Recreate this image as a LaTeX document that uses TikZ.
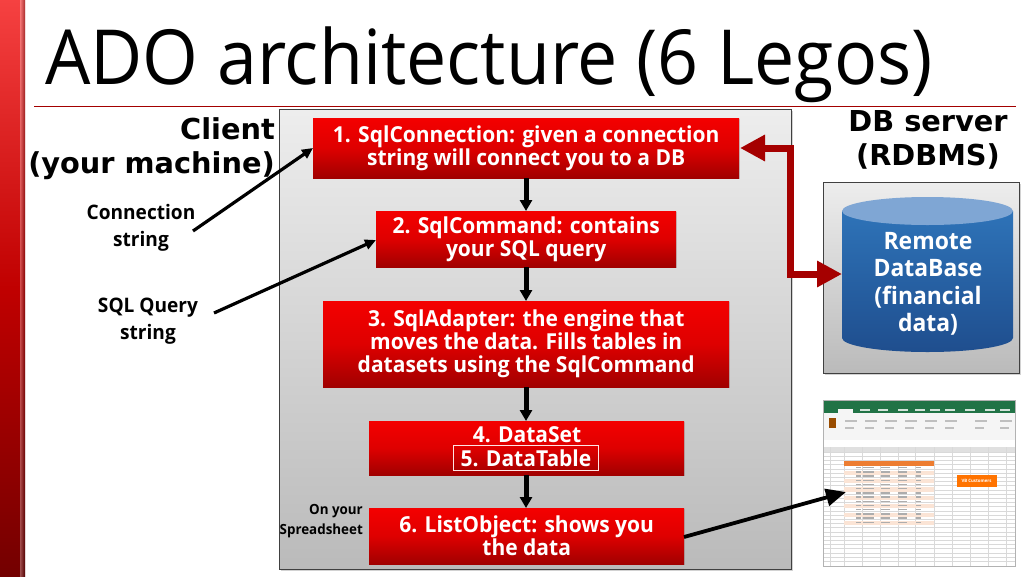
\documentclass[tikz,border=0pt]{standalone}
\usepackage{fontspec}
\setmainfont[FakeStretch=.955]{Open Sans}
\newfontfamily\titlef[FakeStretch=.943]{Open Sans}
\newfontfamily\verd{DejaVu Sans}
\usetikzlibrary{arrows.meta,shadows,calc}
\definecolor{barred}{HTML}{C00000}
\definecolor{FFred}{HTML}{F40000}
\definecolor{DDred}{HTML}{DE0000}
\definecolor{BBred}{HTML}{A00000}
\definecolor{FFdark}{HTML}{A50000}
\definecolor{cyltop}{HTML}{7FA6D4}
\definecolor{cylhi}{HTML}{2E73B8}
\definecolor{cyllo}{HTML}{1F4E8E}
\definecolor{xlgreen}{HTML}{217346}
\definecolor{xlorange}{HTML}{ED7D31}
\definecolor{xlpale}{HTML}{FBE4D5}
\tikzset{
 redbox/.style={draw=none,inner sep=0pt,top color=FFred,bottom color=BBred,middle color=DDred,text=white,font=\bfseries\fontsize{22}{23}\selectfont,align=center,anchor=north west,drop shadow={shadow xshift=.5pt,shadow yshift=-1pt,opacity=.3}},
 panel/.style={draw=black!75,line width=1pt,top color=black!7,bottom color=black!27,drop shadow={shadow xshift=1pt,shadow yshift=-1.5pt,opacity=.35}},
 flow/.style={draw=black,line width=5pt,-{Triangle[length=11pt,width=12pt]}},
 thinarrow/.style={draw=black,line width=3.2pt,line cap=butt,-{Triangle[length=11pt,width=10pt]}},
 big/.style={font=\verd\bfseries\fontsize{28.8}{34}\selectfont,align=center},
 side/.style={font=\bfseries\fontsize{20}{27}\selectfont,align=center},
 sheetc/.style={draw=black!15,line width=.3pt},
 sheetbar/.style={fill=black!32}
}
\begin{document}
\begin{tikzpicture}[x=1pt,y=-1pt]
\useasboundingbox (0,0) rectangle (1024,576);
\fill[white] (0,0) rectangle (1024,576);
% side bar
\shade[top color=red!70!white!85!barred,bottom color=barred!60!black,middle color=barred] (0,0) rectangle (25,576);
\shade[left color=black!0,right color=black,opacity=.3] (20,0) rectangle (25,576);
% title
\node[anchor=base west,inner sep=0pt,font=\titlef\fontsize{76}{84}\selectfont] (title) at (45,84) {ADO architecture (6 Legos)};
\draw[draw=barred!85!black,line width=.8pt] (34,106) -- (1016,106);
% panels
\node[panel,minimum width=512pt,minimum height=460pt,inner sep=0pt,anchor=north west] (client) at (279,109) {};
\node[panel,minimum width=196pt,minimum height=191pt,inner sep=0pt,anchor=north west] (srv) at (823,182) {};
% labels
\node[big,anchor=north east,inner sep=0pt,align=right] (clab) at (275,117) {Client\\(your machine)};
\node[big,anchor=north,inner sep=0pt] (dblab) at (928,110) {DB server\\(RDBMS)};
\node[side,anchor=center] (conn) at (141,228) {Connection\\string};
\node[side,anchor=center] (sqlq) at (148,321) {SQL Query\\string};
\node[font=\bfseries\fontsize{14}{20}\selectfont,align=right,anchor=east,inner sep=0pt] (onyour) at (363,521) {On your\\Spreadsheet};
% boxes
\node[redbox,minimum width=426pt,minimum height=60pt] (b1) at (313,118) {1. SqlConnection: given a connection\\string will connect you to a DB};
\node[redbox,minimum width=300pt,minimum height=56pt] (b2) at (376,211) {2. SqlCommand: contains\\your SQL query};
\node[redbox,minimum width=406pt,minimum height=86pt] (b3) at (323,301) {3. SqlAdapter: the engine that\\moves the data.  Fills tables in\\datasets using the SqlCommand};
\node[redbox,minimum width=315pt,minimum height=54pt] (b4) at (369,421) {};
\node[font=\bfseries\fontsize{22}{23}\selectfont,text=white,inner sep=0pt] (t4) at (527,435) {4. DataSet};
\node[draw=white!90!red,line width=.8pt,font=\bfseries\fontsize{22}{23}\selectfont,text=white,minimum width=145pt,minimum height=25pt,inner sep=0pt] (t5) at (526,458) {5. DataTable};
\node[redbox,minimum width=315pt,minimum height=56pt] (b6) at (369,508) {6. ListObject: shows you\\the data};
% flow arrows
\draw[flow] (b1.south -| t5) -- (b2.north -| t5);
\draw[flow] (b2.south -| t5) -- (b3.north -| t5);
\draw[flow] (b3.south -| t5) -- (b4.north -| t5);
\draw[flow] (b4.south -| t5) -- (b6.north -| t5);
% outside arrows
\coordinate (c1) at (193,231);
\coordinate (c2) at (214,313);
\coordinate (e1) at (313,148);
\coordinate (e2) at (376,240);
\draw[thinarrow] (c1) -- (e1);
\draw[thinarrow] (c2) -- (e2);
% cylinder
\shade[bottom color=cyllo,top color=cylhi] (842,211) -- (842,338) arc[start angle=180,end angle=0,x radius=85.5,y radius=14] -- (1013,211) -- cycle;
\fill[cyltop] (927.5,211) ellipse[x radius=85.5,y radius=14];
\node[font=\bfseries\fontsize{24}{27.4}\selectfont,text=white,align=center,inner sep=0pt] (db) at (928,284) {Remote\\DataBase\\(financial\\data)};
\coordinate (dbw) at (842,274);
\coordinate (b1e) at (740,148);
% spreadsheet
\fill[white] (823,400) rectangle (1015,567);
\fill[xlgreen] (823,400) rectangle (1015,413);
\fill[black!4] (823,413) rectangle (1015,440);
\fill[black!12] (823,447) rectangle (1015,452);
\fill[black!4] (838,409) rectangle (853,413);
\foreach \x in {860,878,898,915,930,945,965,985,1000} \fill[white!80!xlgreen] (\x,408.5) rectangle +(10,2);
\foreach \x in {845,865,885,905,925,945,975,1000} {\fill[black!25] (\x,420) rectangle +(12,2);\fill[black!25] (\x,427) rectangle +(9,2);}
\fill[black!40!orange] (829,418) rectangle +(7,10);
\foreach \y in {452,456.2,...,565} \draw[sheetc] (823,\y) -- (1015,\y);
\foreach \x in {830,844,862,880,898,915,934,952,970,988,1006} \draw[sheetc] (\x,447) -- (\x,566);
\draw[black!30,line width=.6pt] (823,400) rectangle (1015,566);
\fill[xlorange] (844,461) rectangle (934,466);
\foreach \y in {470.5,478.9,...,526} \fill[xlpale] (844,\y) rectangle (934,\y+4.2);
\foreach \y in {467,471.2,...,525} {
 \fill[sheetbar] (856,\y) rectangle +(5,1.4);
 \fill[sheetbar] (863,\y) rectangle +(11,1.4);
 \fill[sheetbar] (881,\y) rectangle +(9,1.4);
 \fill[sheetbar] (898,\y) rectangle +(9,1.4);
 \fill[sheetbar] (916,\y) rectangle +(5,1.4);
}
\node[fill=orange!90!red,minimum width=40pt,minimum height=12pt,inner sep=0pt,text=white,font=\bfseries\fontsize{4.5}{5}\selectfont] (btn) at (976.5,481) {VB Customers};
\coordinate (sh) at (846,492);
\coordinate (l6) at (684,537);
% server arrow
\draw[draw=FFdark,line width=7pt,{Triangle[length=25pt,width=25pt]}-{Triangle[length=25pt,width=25pt]}] (b1e) -- (790,148) -- (790,274) -- (dbw);
\draw[draw=black,line width=3.8pt,-{Triangle[length=20pt,width=17pt]}] (l6) -- (sh);
\end{tikzpicture}
\end{document}
